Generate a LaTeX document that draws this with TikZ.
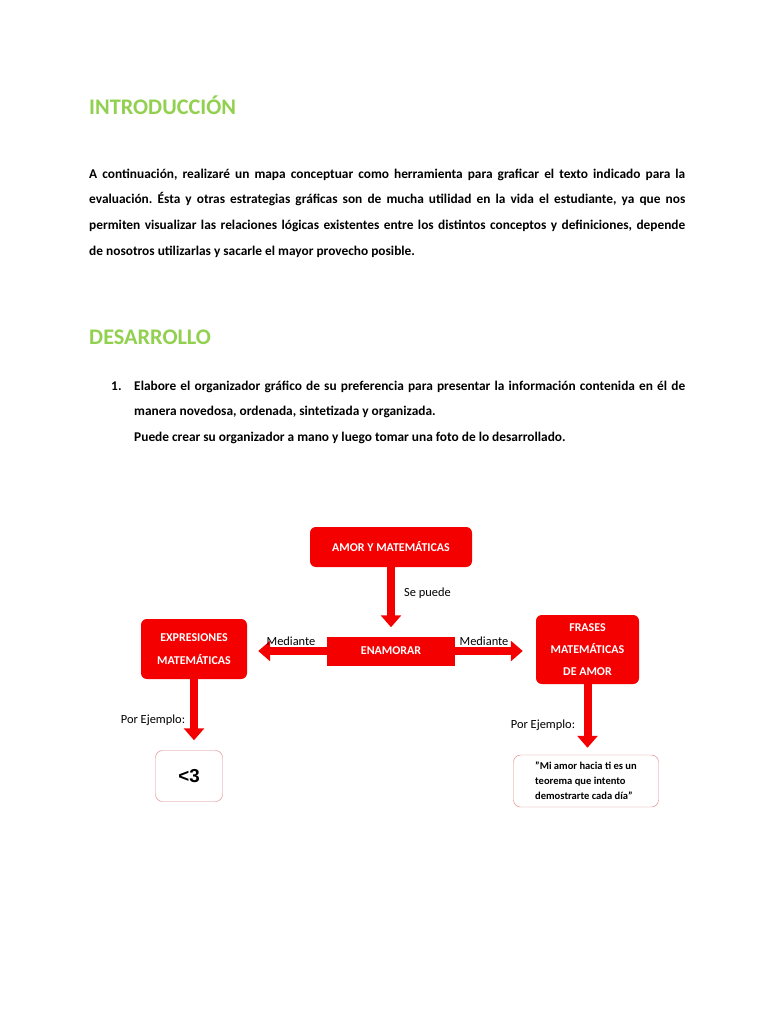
\documentclass[tikz,border=0pt]{standalone}
\usepackage{fontspec}
\setmainfont{Carlito}
\newfontfamily\arialfont{Liberation Sans}
\usepackage{xcolor}
\usetikzlibrary{arrows.meta}

\definecolor{titlegreen}{HTML}{92D050}
\definecolor{mapred}{HTML}{F50000}
\definecolor{edgered}{HTML}{E08A8A}

\begin{document}
\frenchspacing
\begin{tikzpicture}[
  x=0.03cm, y=-0.03cm,
  heading/.style={anchor=base west, inner sep=0pt, text=titlegreen, font=\fontsize{19}{23}\selectfont\bfseries},
  bodytext/.style={anchor=base west, inner sep=0pt, align=justify, font=\fontsize{11.4}{22.1}\selectfont\bfseries},
  redbox/.style={fill=mapred, text=white, rounded corners=5pt, align=center, inner sep=0pt, font=\fontsize{10.2}{19}\selectfont\bfseries},
  examplebox/.style={draw=edgered, fill=white, rounded corners=6pt, inner sep=0pt},
  lbl/.style={inner sep=0pt, font=\fontsize{10.6}{12}\selectfont},
  arr/.style={draw=mapred, line width=0.24cm, -{Triangle[width=0.6cm,length=0.36cm]}}
]
\useasboundingbox[fill=white] (0,0) rectangle (768,1024);

% texto
\node[heading] (intro) at (89,114) {INTRODUCCIÓN};
\node[bodytext, text width=17.88cm] (parrafo) at (89,178)
  {A continuación, realizaré un mapa conceptuar como herramienta para graficar el texto indicado para la\linebreak
   evaluación. Ésta y otras estrategias gráficas son de mucha utilidad en la vida el estudiante, ya que nos\linebreak
   permiten visualizar las relaciones lógicas existentes entre los distintos conceptos y definiciones, depende\linebreak
   de nosotros utilizarlas y sacarle el mayor provecho posible.};
\node[heading] (desarrollo) at (89,344) {DESARROLLO};
\node[bodytext] (num) at (111,390) {1.};
\node[bodytext, text width=16.53cm] (consigna) at (134,390)
  {Elabore el organizador gráfico de su preferencia para presentar la información contenida en él de\linebreak
   manera novedosa, ordenada, sintetizada y organizada.\\
   Puede crear su organizador a mano y luego tomar una foto de lo desarrollado.};

% mapa
\node[redbox, minimum width=162*0.03cm, minimum height=40*0.03cm] (amor) at (391,547) {AMOR Y MATEMÁTICAS};
\node[redbox, rounded corners=0pt, minimum width=128*0.03cm, minimum height=29*0.03cm] (enamorar) at (391,651) {ENAMORAR};
\node[redbox, minimum width=106*0.03cm, minimum height=60*0.03cm] (expr) at (194,649) {EXPRESIONES\\MATEMÁTICAS};
\node[redbox, minimum width=103*0.03cm, minimum height=69*0.03cm] (frases) at (587.5,649.5) {FRASES\\MATEMÁTICAS\\DE AMOR};
\node[examplebox, minimum width=67*0.03cm, minimum height=51*0.03cm, font=\arialfont\bfseries\fontsize{16}{18}\selectfont] (corazon) at (189,776) {<3};
\node[examplebox, minimum width=145*0.03cm, minimum height=52*0.03cm, align=left, font=\fontsize{9}{12.8}\selectfont\bfseries] (cita) at (586,781)
  {"Mi amor hacia ti es un\\teorema que intento\\demostrarte cada día"};

\draw[arr, shorten >=0.27cm] (amor) -- (enamorar);
\draw[arr, shorten >=0.33cm] (enamorar.west) -- (enamorar.west -| expr.east);
\draw[arr, shorten >=0.39cm] (enamorar.east) -- (enamorar.east -| frases.west);
\draw[arr, shorten >=0.30cm] (expr.south) -- (expr.south |- corazon.north);
\draw[arr, shorten >=0.21cm] (frases.south) -- (frases.south |- cita.north);

\node[lbl, anchor=west] (sepuede) at (404,593) {Se puede};
\node[lbl] (mediante1) at (291,641) {Mediante};
\node[lbl] (mediante2) at (484,641) {Mediante};
\node[lbl] (ejemplo1) at (153,720) {Por Ejemplo:};
\node[lbl] (ejemplo2) at (543,725) {Por Ejemplo:};
\end{tikzpicture}
\end{document}
